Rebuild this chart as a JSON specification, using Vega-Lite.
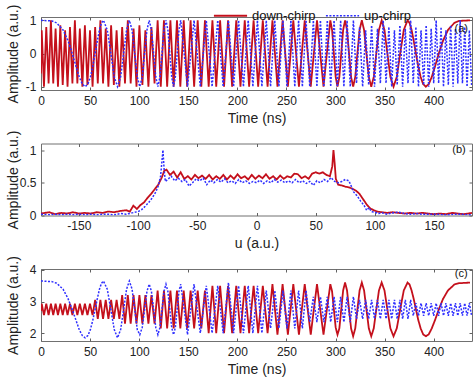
{
"$schema": "https://vega.github.io/schema/vega-lite/v6.json",
"padding": {"left": 5, "top": -3, "right": 0, "bottom": 0},
"background": "white",
"config": {
 "font": "Liberation Sans",
 "view": {"stroke": "#707070", "strokeWidth": 1},
 "axis": {"grid": false, "domain": false, "tickColor": "#606060", "tickSize": -3, "labelFontSize": 12, "labelColor": "#222222", "titleFontSize": 14, "titleFontWeight": "normal", "titleColor": "#222222", "labelPadding": 8, "labelFlush": false, "labelOverlap": false}
},
"datasets": {
"sig": [
{"s":"down-chirp","t":437,"a":1,"c":3.6},
{"s":"down-chirp","t":425.75,"a":0.981,"c":3.58},
{"s":"down-chirp","t":421.09,"a":0.924,"c":3.54},
{"s":"down-chirp","t":414.5,"a":0.707,"c":3.35},
{"s":"down-chirp","t":409.44,"a":0.383,"c":3.08},
{"s":"down-chirp","t":405.18,"a":0,"c":2.75},
{"s":"down-chirp","t":401.42,"a":-0.383,"c":2.42},
{"s":"down-chirp","t":398.03,"a":-0.707,"c":2.15},
{"s":"down-chirp","t":394.91,"a":-0.924,"c":1.96},
{"s":"down-chirp","t":392,"a":-1,"c":1.9},
{"s":"down-chirp","t":389.27,"a":-0.924,"c":1.96},
{"s":"down-chirp","t":386.69,"a":-0.707,"c":2.15},
{"s":"down-chirp","t":384.23,"a":-0.383,"c":2.42},
{"s":"down-chirp","t":381.89,"a":0,"c":2.75},
{"s":"down-chirp","t":379.64,"a":0.383,"c":3.08},
{"s":"down-chirp","t":377.47,"a":0.707,"c":3.35},
{"s":"down-chirp","t":375.38,"a":0.924,"c":3.54},
{"s":"down-chirp","t":373.36,"a":1,"c":3.6},
{"s":"down-chirp","t":369.5,"a":0.707,"c":3.35},
{"s":"down-chirp","t":365.85,"a":0,"c":2.75},
{"s":"down-chirp","t":362.38,"a":-0.707,"c":2.15},
{"s":"down-chirp","t":359.06,"a":-1,"c":1.9},
{"s":"down-chirp","t":355.88,"a":-0.707,"c":2.15},
{"s":"down-chirp","t":352.81,"a":0,"c":2.75},
{"s":"down-chirp","t":349.86,"a":0.707,"c":3.35},
{"s":"down-chirp","t":347,"a":1,"c":3.6},
{"s":"down-chirp","t":344.23,"a":0.707,"c":3.35},
{"s":"down-chirp","t":341.54,"a":0,"c":2.75},
{"s":"down-chirp","t":338.93,"a":-0.707,"c":2.15},
{"s":"down-chirp","t":336.38,"a":-1,"c":1.9},
{"s":"down-chirp","t":333.89,"a":-0.707,"c":2.15},
{"s":"down-chirp","t":331.47,"a":0,"c":2.75},
{"s":"down-chirp","t":329.09,"a":0.707,"c":3.35},
{"s":"down-chirp","t":326.77,"a":1,"c":3.6},
{"s":"down-chirp","t":324.5,"a":0.707,"c":3.35},
{"s":"down-chirp","t":322.27,"a":0,"c":2.75},
{"s":"down-chirp","t":320.09,"a":-0.707,"c":2.15},
{"s":"down-chirp","t":317.94,"a":-1,"c":1.9},
{"s":"down-chirp","t":315.83,"a":-0.707,"c":2.15},
{"s":"down-chirp","t":313.76,"a":0,"c":2.75},
{"s":"down-chirp","t":311.72,"a":0.707,"c":3.35},
{"s":"down-chirp","t":309.72,"a":1,"c":3.6},
{"s":"down-chirp","t":307.75,"a":0.707,"c":3.35},
{"s":"down-chirp","t":305.8,"a":0,"c":2.75},
{"s":"down-chirp","t":303.89,"a":-0.707,"c":2.15},
{"s":"down-chirp","t":302,"a":-1,"c":1.95},
{"s":"down-chirp","t":300.14,"a":-0.707,"c":2.18},
{"s":"down-chirp","t":298.3,"a":0,"c":2.75},
{"s":"down-chirp","t":296.49,"a":0.707,"c":3.32},
{"s":"down-chirp","t":294.7,"a":1,"c":3.55},
{"s":"down-chirp","t":291.18,"a":0,"c":2.75},
{"s":"down-chirp","t":287.75,"a":-1,"c":1.95},
{"s":"down-chirp","t":284.4,"a":0,"c":2.75},
{"s":"down-chirp","t":281.12,"a":1,"c":3.55},
{"s":"down-chirp","t":277.9,"a":0,"c":2.75},
{"s":"down-chirp","t":274.75,"a":-1,"c":1.95},
{"s":"down-chirp","t":271.66,"a":0,"c":2.75},
{"s":"down-chirp","t":268.63,"a":1,"c":3.55},
{"s":"down-chirp","t":265.64,"a":0,"c":2.75},
{"s":"down-chirp","t":262.72,"a":-1,"c":1.95},
{"s":"down-chirp","t":259.83,"a":0,"c":2.75},
{"s":"down-chirp","t":257,"a":1,"c":3.55},
{"s":"down-chirp","t":251.46,"a":-1,"c":1.95},
{"s":"down-chirp","t":246.08,"a":1,"c":3.55},
{"s":"down-chirp","t":240.85,"a":-1,"c":1.95},
{"s":"down-chirp","t":235.75,"a":1,"c":3.55},
{"s":"down-chirp","t":230.78,"a":-1,"c":2.0},
{"s":"down-chirp","t":225.93,"a":1,"c":3.5},
{"s":"down-chirp","t":221.19,"a":-1,"c":2.0},
{"s":"down-chirp","t":216.55,"a":1,"c":3.5},
{"s":"down-chirp","t":212,"a":-1,"c":2.0},
{"s":"down-chirp","t":207.54,"a":1,"c":3.5},
{"s":"down-chirp","t":203.17,"a":-1,"c":2.0},
{"s":"down-chirp","t":198.88,"a":1,"c":3.5},
{"s":"down-chirp","t":194.67,"a":-1,"c":2.0},
{"s":"down-chirp","t":190.52,"a":1,"c":3.5},
{"s":"down-chirp","t":186.45,"a":-1,"c":2.0},
{"s":"down-chirp","t":182.44,"a":1,"c":3.5},
{"s":"down-chirp","t":178.49,"a":-1,"c":2.0},
{"s":"down-chirp","t":174.61,"a":1,"c":3.5},
{"s":"down-chirp","t":170.78,"a":-1,"c":2.0},
{"s":"down-chirp","t":167,"a":1,"c":3.35},
{"s":"down-chirp","t":163.28,"a":-1,"c":2.15},
{"s":"down-chirp","t":159.6,"a":1,"c":3.35},
{"s":"down-chirp","t":155.98,"a":-1,"c":2.15},
{"s":"down-chirp","t":152.39,"a":1,"c":3.35},
{"s":"down-chirp","t":148.86,"a":-1,"c":2.15},
{"s":"down-chirp","t":145.37,"a":1,"c":3.35},
{"s":"down-chirp","t":141.92,"a":-1,"c":2.15},
{"s":"down-chirp","t":138.5,"a":1,"c":3.35},
{"s":"down-chirp","t":135.13,"a":-1,"c":2.15},
{"s":"down-chirp","t":131.8,"a":1,"c":3.35},
{"s":"down-chirp","t":128.49,"a":-1,"c":2.15},
{"s":"down-chirp","t":125.23,"a":1,"c":3.35},
{"s":"down-chirp","t":122,"a":-1,"c":2.15},
{"s":"down-chirp","t":118.8,"a":1,"c":3.35},
{"s":"down-chirp","t":115.64,"a":-0.9,"c":2.3},
{"s":"down-chirp","t":112.5,"a":0.8,"c":3.2},
{"s":"down-chirp","t":109.4,"a":-1,"c":2.3},
{"s":"down-chirp","t":106.32,"a":0.7,"c":3.2},
{"s":"down-chirp","t":103.27,"a":-0.95,"c":2.3},
{"s":"down-chirp","t":100.25,"a":0.85,"c":3.2},
{"s":"down-chirp","t":97.26,"a":-1,"c":2.3},
{"s":"down-chirp","t":94.29,"a":0.75,"c":3.2},
{"s":"down-chirp","t":91.35,"a":-0.9,"c":2.3},
{"s":"down-chirp","t":88.43,"a":1,"c":3.2},
{"s":"down-chirp","t":85.54,"a":-0.9,"c":2.3},
{"s":"down-chirp","t":82.67,"a":0.8,"c":3.2},
{"s":"down-chirp","t":79.82,"a":-1,"c":2.45},
{"s":"down-chirp","t":77,"a":0.7,"c":3.05},
{"s":"down-chirp","t":74.2,"a":-0.95,"c":2.45},
{"s":"down-chirp","t":71.42,"a":0.85,"c":3.05},
{"s":"down-chirp","t":68.66,"a":-1,"c":2.45},
{"s":"down-chirp","t":65.92,"a":0.75,"c":3.05},
{"s":"down-chirp","t":63.2,"a":-0.9,"c":2.45},
{"s":"down-chirp","t":60.5,"a":1,"c":3.05},
{"s":"down-chirp","t":57.83,"a":-0.9,"c":2.45},
{"s":"down-chirp","t":55.16,"a":0.8,"c":3.05},
{"s":"down-chirp","t":52.52,"a":-1,"c":2.57},
{"s":"down-chirp","t":49.9,"a":0.7,"c":2.93},
{"s":"down-chirp","t":47.29,"a":-0.95,"c":2.57},
{"s":"down-chirp","t":44.7,"a":0.85,"c":2.93},
{"s":"down-chirp","t":42.12,"a":-1,"c":2.57},
{"s":"down-chirp","t":39.57,"a":0.75,"c":2.93},
{"s":"down-chirp","t":37.03,"a":-0.9,"c":2.57},
{"s":"down-chirp","t":34.51,"a":1,"c":2.93},
{"s":"down-chirp","t":32,"a":-0.9,"c":2.57},
{"s":"down-chirp","t":29.51,"a":0.8,"c":2.93},
{"s":"down-chirp","t":27.03,"a":-1,"c":2.57},
{"s":"down-chirp","t":24.57,"a":0.7,"c":2.93},
{"s":"down-chirp","t":22.12,"a":-0.95,"c":2.57},
{"s":"down-chirp","t":19.69,"a":0.85,"c":2.93},
{"s":"down-chirp","t":17.27,"a":-1,"c":2.57},
{"s":"down-chirp","t":14.86,"a":0.75,"c":2.93},
{"s":"down-chirp","t":12.47,"a":-0.9,"c":2.57},
{"s":"down-chirp","t":10.09,"a":1,"c":2.93},
{"s":"down-chirp","t":7.73,"a":-0.9,"c":2.57},
{"s":"down-chirp","t":5.37,"a":0.8,"c":2.93},
{"s":"down-chirp","t":3.03,"a":-1,"c":2.57},
{"s":"down-chirp","t":0.71,"a":0.7,"c":2.93},
{"s":"down-chirp","t":0,"a":-0.6,"c":2.7},
{"s":"up-chirp","t":0,"a":1,"c":3.65},
{"s":"up-chirp","t":11.25,"a":0.981,"c":3.63},
{"s":"up-chirp","t":15.91,"a":0.924,"c":3.58},
{"s":"up-chirp","t":22.5,"a":0.707,"c":3.39},
{"s":"up-chirp","t":27.56,"a":0.383,"c":3.09},
{"s":"up-chirp","t":31.82,"a":0,"c":2.75},
{"s":"up-chirp","t":35.58,"a":-0.383,"c":2.41},
{"s":"up-chirp","t":38.97,"a":-0.707,"c":2.11},
{"s":"up-chirp","t":42.09,"a":-0.924,"c":1.92},
{"s":"up-chirp","t":45,"a":-1,"c":1.85},
{"s":"up-chirp","t":47.73,"a":-0.924,"c":1.92},
{"s":"up-chirp","t":50.31,"a":-0.707,"c":2.11},
{"s":"up-chirp","t":52.77,"a":-0.383,"c":2.41},
{"s":"up-chirp","t":55.11,"a":0,"c":2.75},
{"s":"up-chirp","t":57.36,"a":0.383,"c":3.09},
{"s":"up-chirp","t":59.53,"a":0.707,"c":3.39},
{"s":"up-chirp","t":61.62,"a":0.924,"c":3.58},
{"s":"up-chirp","t":63.64,"a":1,"c":3.65},
{"s":"up-chirp","t":67.5,"a":0.707,"c":3.39},
{"s":"up-chirp","t":71.15,"a":0,"c":2.75},
{"s":"up-chirp","t":74.62,"a":-0.707,"c":2.11},
{"s":"up-chirp","t":77.94,"a":-1,"c":1.85},
{"s":"up-chirp","t":81.12,"a":-0.707,"c":2.11},
{"s":"up-chirp","t":84.19,"a":0,"c":2.75},
{"s":"up-chirp","t":87.14,"a":0.707,"c":3.39},
{"s":"up-chirp","t":90,"a":1,"c":3.65},
{"s":"up-chirp","t":92.77,"a":0.707,"c":3.39},
{"s":"up-chirp","t":95.46,"a":0,"c":2.75},
{"s":"up-chirp","t":98.07,"a":-0.707,"c":2.11},
{"s":"up-chirp","t":100.62,"a":-1,"c":1.95},
{"s":"up-chirp","t":103.11,"a":-0.707,"c":2.18},
{"s":"up-chirp","t":105.53,"a":0,"c":2.75},
{"s":"up-chirp","t":107.91,"a":0.707,"c":3.32},
{"s":"up-chirp","t":110.23,"a":1,"c":3.55},
{"s":"up-chirp","t":112.5,"a":0.707,"c":3.32},
{"s":"up-chirp","t":114.73,"a":0,"c":2.75},
{"s":"up-chirp","t":116.91,"a":-0.707,"c":2.18},
{"s":"up-chirp","t":119.06,"a":-1,"c":1.95},
{"s":"up-chirp","t":121.17,"a":-0.707,"c":2.18},
{"s":"up-chirp","t":123.24,"a":0,"c":2.75},
{"s":"up-chirp","t":125.28,"a":0.707,"c":3.32},
{"s":"up-chirp","t":127.28,"a":1,"c":3.55},
{"s":"up-chirp","t":129.25,"a":0.707,"c":3.32},
{"s":"up-chirp","t":131.2,"a":0,"c":2.75},
{"s":"up-chirp","t":133.11,"a":-0.707,"c":2.18},
{"s":"up-chirp","t":135,"a":-1,"c":1.95},
{"s":"up-chirp","t":136.86,"a":-0.707,"c":2.18},
{"s":"up-chirp","t":138.7,"a":0,"c":2.75},
{"s":"up-chirp","t":140.51,"a":0.707,"c":3.32},
{"s":"up-chirp","t":142.3,"a":1,"c":3.55},
{"s":"up-chirp","t":145.82,"a":0,"c":2.75},
{"s":"up-chirp","t":149.25,"a":-1,"c":1.95},
{"s":"up-chirp","t":152.6,"a":0,"c":2.75},
{"s":"up-chirp","t":155.88,"a":1,"c":3.55},
{"s":"up-chirp","t":159.1,"a":0,"c":2.75},
{"s":"up-chirp","t":162.25,"a":-1,"c":2.0},
{"s":"up-chirp","t":165.34,"a":0,"c":2.75},
{"s":"up-chirp","t":168.37,"a":1,"c":3.5},
{"s":"up-chirp","t":171.36,"a":0,"c":2.75},
{"s":"up-chirp","t":174.28,"a":-1,"c":2.0},
{"s":"up-chirp","t":177.17,"a":0,"c":2.75},
{"s":"up-chirp","t":180,"a":1,"c":3.5},
{"s":"up-chirp","t":185.54,"a":-1,"c":2.0},
{"s":"up-chirp","t":190.92,"a":1,"c":3.6},
{"s":"up-chirp","t":196.15,"a":-1,"c":2.0},
{"s":"up-chirp","t":201.25,"a":1,"c":3.5},
{"s":"up-chirp","t":206.22,"a":-1,"c":2.0},
{"s":"up-chirp","t":211.07,"a":1,"c":3.5},
{"s":"up-chirp","t":215.81,"a":-1,"c":2.0},
{"s":"up-chirp","t":220.45,"a":1,"c":3.5},
{"s":"up-chirp","t":225,"a":-1,"c":2.0},
{"s":"up-chirp","t":229.46,"a":1,"c":3.35},
{"s":"up-chirp","t":233.83,"a":-1,"c":2.15},
{"s":"up-chirp","t":238.12,"a":1,"c":3.35},
{"s":"up-chirp","t":242.33,"a":-1,"c":2.15},
{"s":"up-chirp","t":246.48,"a":1,"c":3.35},
{"s":"up-chirp","t":250.55,"a":-1,"c":2.15},
{"s":"up-chirp","t":254.56,"a":1,"c":3.35},
{"s":"up-chirp","t":258.51,"a":-1,"c":2.15},
{"s":"up-chirp","t":262.39,"a":1,"c":3.35},
{"s":"up-chirp","t":266.22,"a":-1,"c":2.15},
{"s":"up-chirp","t":270,"a":1,"c":3.35},
{"s":"up-chirp","t":273.72,"a":-1,"c":2.35},
{"s":"up-chirp","t":277.4,"a":1,"c":3.15},
{"s":"up-chirp","t":281.02,"a":-1,"c":2.35},
{"s":"up-chirp","t":284.61,"a":1,"c":3.15},
{"s":"up-chirp","t":288.14,"a":-1,"c":2.35},
{"s":"up-chirp","t":291.63,"a":1,"c":3.15},
{"s":"up-chirp","t":295.08,"a":-1,"c":2.35},
{"s":"up-chirp","t":298.5,"a":1,"c":3.15},
{"s":"up-chirp","t":301.87,"a":-1,"c":2.35},
{"s":"up-chirp","t":305.2,"a":1,"c":3.15},
{"s":"up-chirp","t":308.51,"a":-1,"c":2.35},
{"s":"up-chirp","t":311.77,"a":1,"c":3.15},
{"s":"up-chirp","t":315,"a":-1,"c":2.35},
{"s":"up-chirp","t":318.2,"a":1,"c":3.15},
{"s":"up-chirp","t":321.36,"a":-0.9,"c":2.45},
{"s":"up-chirp","t":324.5,"a":0.8,"c":3.05},
{"s":"up-chirp","t":327.6,"a":-1,"c":2.45},
{"s":"up-chirp","t":330.68,"a":0.7,"c":3.05},
{"s":"up-chirp","t":333.73,"a":-0.95,"c":2.45},
{"s":"up-chirp","t":336.75,"a":0.85,"c":3.05},
{"s":"up-chirp","t":339.74,"a":-1,"c":2.45},
{"s":"up-chirp","t":342.71,"a":0.75,"c":3.05},
{"s":"up-chirp","t":345.65,"a":-0.9,"c":2.45},
{"s":"up-chirp","t":348.57,"a":1,"c":3.05},
{"s":"up-chirp","t":351.46,"a":-0.9,"c":2.45},
{"s":"up-chirp","t":354.33,"a":0.8,"c":3.05},
{"s":"up-chirp","t":357.18,"a":-1,"c":2.45},
{"s":"up-chirp","t":360,"a":0.7,"c":3.05},
{"s":"up-chirp","t":362.8,"a":-0.95,"c":2.45},
{"s":"up-chirp","t":365.58,"a":0.85,"c":3.05},
{"s":"up-chirp","t":368.34,"a":-1,"c":2.45},
{"s":"up-chirp","t":371.08,"a":0.75,"c":3.05},
{"s":"up-chirp","t":373.8,"a":-0.9,"c":2.45},
{"s":"up-chirp","t":376.5,"a":1,"c":3.05},
{"s":"up-chirp","t":379.17,"a":-0.9,"c":2.55},
{"s":"up-chirp","t":381.84,"a":0.8,"c":2.95},
{"s":"up-chirp","t":384.48,"a":-1,"c":2.55},
{"s":"up-chirp","t":387.1,"a":0.7,"c":2.95},
{"s":"up-chirp","t":389.71,"a":-0.95,"c":2.55},
{"s":"up-chirp","t":392.3,"a":0.85,"c":2.95},
{"s":"up-chirp","t":394.88,"a":-1,"c":2.55},
{"s":"up-chirp","t":397.43,"a":0.75,"c":2.95},
{"s":"up-chirp","t":399.97,"a":-0.9,"c":2.55},
{"s":"up-chirp","t":402.49,"a":1,"c":2.95},
{"s":"up-chirp","t":405,"a":-0.9,"c":2.55},
{"s":"up-chirp","t":407.49,"a":0.8,"c":2.95},
{"s":"up-chirp","t":409.97,"a":-1,"c":2.55},
{"s":"up-chirp","t":412.43,"a":0.7,"c":2.95},
{"s":"up-chirp","t":414.88,"a":-0.95,"c":2.55},
{"s":"up-chirp","t":417.31,"a":0.85,"c":2.95},
{"s":"up-chirp","t":419.73,"a":-1,"c":2.55},
{"s":"up-chirp","t":422.14,"a":0.75,"c":2.95},
{"s":"up-chirp","t":424.53,"a":-0.9,"c":2.55},
{"s":"up-chirp","t":426.91,"a":1,"c":2.95},
{"s":"up-chirp","t":429.27,"a":-0.9,"c":2.55},
{"s":"up-chirp","t":431.63,"a":0.8,"c":2.95},
{"s":"up-chirp","t":433.97,"a":-1,"c":2.55},
{"s":"up-chirp","t":436.29,"a":0.7,"c":2.95},
{"s":"up-chirp","t":438.6,"a":-0.95,"c":2.55}
],
"spec": [
{"s":"down-chirp","u":-182,"b":0.03},{"s":"down-chirp","u":-175,"b":0.05},{"s":"down-chirp","u":-170,"b":0.02},{"s":"down-chirp","u":-165,"b":0.04},{"s":"down-chirp","u":-160,"b":0.03},{"s":"down-chirp","u":-155,"b":0.05},{"s":"down-chirp","u":-150,"b":0.03},{"s":"down-chirp","u":-145,"b":0.04},{"s":"down-chirp","u":-140,"b":0.03},{"s":"down-chirp","u":-135,"b":0.05},{"s":"down-chirp","u":-130,"b":0.04},{"s":"down-chirp","u":-125,"b":0.06},{"s":"down-chirp","u":-120,"b":0.05},{"s":"down-chirp","u":-115,"b":0.07},{"s":"down-chirp","u":-110,"b":0.08},{"s":"down-chirp","u":-107,"b":0.06},{"s":"down-chirp","u":-104,"b":0.15},{"s":"down-chirp","u":-101,"b":0.1},{"s":"down-chirp","u":-98,"b":0.16},{"s":"down-chirp","u":-95,"b":0.2},{"s":"down-chirp","u":-92,"b":0.27},{"s":"down-chirp","u":-89,"b":0.33},{"s":"down-chirp","u":-86,"b":0.4},{"s":"down-chirp","u":-83,"b":0.47},{"s":"down-chirp","u":-80,"b":0.58},{"s":"down-chirp","u":-78,"b":0.68},{"s":"down-chirp","u":-76,"b":0.7},{"s":"down-chirp","u":-73,"b":0.62},{"s":"down-chirp","u":-70,"b":0.67},{"s":"down-chirp","u":-67,"b":0.58},{"s":"down-chirp","u":-64,"b":0.66},{"s":"down-chirp","u":-61,"b":0.56},{"s":"down-chirp","u":-58,"b":0.6},{"s":"down-chirp","u":-55,"b":0.55},{"s":"down-chirp","u":-52,"b":0.62},{"s":"down-chirp","u":-49,"b":0.57},{"s":"down-chirp","u":-46,"b":0.61},{"s":"down-chirp","u":-43,"b":0.56},{"s":"down-chirp","u":-40,"b":0.62},{"s":"down-chirp","u":-37,"b":0.55},{"s":"down-chirp","u":-34,"b":0.6},{"s":"down-chirp","u":-31,"b":0.56},{"s":"down-chirp","u":-28,"b":0.62},{"s":"down-chirp","u":-25,"b":0.55},{"s":"down-chirp","u":-22,"b":0.61},{"s":"down-chirp","u":-19,"b":0.56},{"s":"down-chirp","u":-16,"b":0.63},{"s":"down-chirp","u":-13,"b":0.57},{"s":"down-chirp","u":-10,"b":0.6},{"s":"down-chirp","u":-7,"b":0.55},{"s":"down-chirp","u":-4,"b":0.62},{"s":"down-chirp","u":-1,"b":0.56},{"s":"down-chirp","u":2,"b":0.61},{"s":"down-chirp","u":5,"b":0.57},{"s":"down-chirp","u":8,"b":0.63},{"s":"down-chirp","u":11,"b":0.56},{"s":"down-chirp","u":14,"b":0.6},{"s":"down-chirp","u":17,"b":0.55},{"s":"down-chirp","u":20,"b":0.61},{"s":"down-chirp","u":23,"b":0.56},{"s":"down-chirp","u":26,"b":0.6},{"s":"down-chirp","u":29,"b":0.58},{"s":"down-chirp","u":32,"b":0.64},{"s":"down-chirp","u":35,"b":0.63},{"s":"down-chirp","u":38,"b":0.57},{"s":"down-chirp","u":41,"b":0.6},{"s":"down-chirp","u":44,"b":0.56},{"s":"down-chirp","u":47,"b":0.64},{"s":"down-chirp","u":50,"b":0.66},{"s":"down-chirp","u":53,"b":0.64},{"s":"down-chirp","u":56,"b":0.66},{"s":"down-chirp","u":59,"b":0.62},{"s":"down-chirp","u":62,"b":0.6},{"s":"down-chirp","u":64,"b":0.75},{"s":"down-chirp","u":65,"b":1.0},{"s":"down-chirp","u":66,"b":0.8},{"s":"down-chirp","u":67,"b":0.56},{"s":"down-chirp","u":69,"b":0.47},{"s":"down-chirp","u":72,"b":0.46},{"s":"down-chirp","u":75,"b":0.44},{"s":"down-chirp","u":78,"b":0.43},{"s":"down-chirp","u":81,"b":0.41},{"s":"down-chirp","u":84,"b":0.38},{"s":"down-chirp","u":87,"b":0.33},{"s":"down-chirp","u":90,"b":0.25},{"s":"down-chirp","u":93,"b":0.17},{"s":"down-chirp","u":96,"b":0.11},{"s":"down-chirp","u":99,"b":0.08},{"s":"down-chirp","u":102,"b":0.06},{"s":"down-chirp","u":106,"b":0.05},{"s":"down-chirp","u":110,"b":0.04},{"s":"down-chirp","u":115,"b":0.05},{"s":"down-chirp","u":120,"b":0.04},{"s":"down-chirp","u":125,"b":0.03},{"s":"down-chirp","u":130,"b":0.04},{"s":"down-chirp","u":135,"b":0.03},{"s":"down-chirp","u":140,"b":0.04},{"s":"down-chirp","u":145,"b":0.03},{"s":"down-chirp","u":150,"b":0.02},{"s":"down-chirp","u":155,"b":0.03},{"s":"down-chirp","u":160,"b":0.02},{"s":"down-chirp","u":165,"b":0.04},{"s":"down-chirp","u":170,"b":0.03},{"s":"down-chirp","u":175,"b":0.02},{"s":"down-chirp","u":182,"b":0.04},
{"s":"up-chirp","u":-182,"b":0.02},{"s":"up-chirp","u":-175,"b":0.01},{"s":"up-chirp","u":-170,"b":0.02},{"s":"up-chirp","u":-165,"b":0.01},{"s":"up-chirp","u":-160,"b":0.02},{"s":"up-chirp","u":-155,"b":0.01},{"s":"up-chirp","u":-150,"b":0.02},{"s":"up-chirp","u":-145,"b":0.01},{"s":"up-chirp","u":-140,"b":0.02},{"s":"up-chirp","u":-135,"b":0.01},{"s":"up-chirp","u":-130,"b":0.02},{"s":"up-chirp","u":-125,"b":0.02},{"s":"up-chirp","u":-120,"b":0.01},{"s":"up-chirp","u":-115,"b":0.03},{"s":"up-chirp","u":-110,"b":0.02},{"s":"up-chirp","u":-105,"b":0.04},{"s":"up-chirp","u":-100,"b":0.06},{"s":"up-chirp","u":-97,"b":0.09},{"s":"up-chirp","u":-94,"b":0.14},{"s":"up-chirp","u":-91,"b":0.2},{"s":"up-chirp","u":-88,"b":0.27},{"s":"up-chirp","u":-85,"b":0.36},{"s":"up-chirp","u":-83,"b":0.45},{"s":"up-chirp","u":-81,"b":0.6},{"s":"up-chirp","u":-80,"b":0.8},{"s":"up-chirp","u":-79,"b":1.0},{"s":"up-chirp","u":-78,"b":0.7},{"s":"up-chirp","u":-77,"b":0.52},{"s":"up-chirp","u":-75,"b":0.55},{"s":"up-chirp","u":-72,"b":0.6},{"s":"up-chirp","u":-69,"b":0.53},{"s":"up-chirp","u":-66,"b":0.57},{"s":"up-chirp","u":-63,"b":0.52},{"s":"up-chirp","u":-60,"b":0.55},{"s":"up-chirp","u":-57,"b":0.45},{"s":"up-chirp","u":-54,"b":0.5},{"s":"up-chirp","u":-51,"b":0.56},{"s":"up-chirp","u":-48,"b":0.53},{"s":"up-chirp","u":-45,"b":0.57},{"s":"up-chirp","u":-42,"b":0.47},{"s":"up-chirp","u":-39,"b":0.54},{"s":"up-chirp","u":-36,"b":0.5},{"s":"up-chirp","u":-33,"b":0.55},{"s":"up-chirp","u":-30,"b":0.51},{"s":"up-chirp","u":-27,"b":0.56},{"s":"up-chirp","u":-24,"b":0.5},{"s":"up-chirp","u":-21,"b":0.53},{"s":"up-chirp","u":-18,"b":0.49},{"s":"up-chirp","u":-15,"b":0.55},{"s":"up-chirp","u":-12,"b":0.5},{"s":"up-chirp","u":-9,"b":0.53},{"s":"up-chirp","u":-6,"b":0.49},{"s":"up-chirp","u":-3,"b":0.52},{"s":"up-chirp","u":0,"b":0.5},{"s":"up-chirp","u":3,"b":0.54},{"s":"up-chirp","u":6,"b":0.49},{"s":"up-chirp","u":9,"b":0.53},{"s":"up-chirp","u":12,"b":0.5},{"s":"up-chirp","u":15,"b":0.55},{"s":"up-chirp","u":18,"b":0.51},{"s":"up-chirp","u":21,"b":0.54},{"s":"up-chirp","u":24,"b":0.5},{"s":"up-chirp","u":27,"b":0.53},{"s":"up-chirp","u":30,"b":0.5},{"s":"up-chirp","u":33,"b":0.55},{"s":"up-chirp","u":36,"b":0.5},{"s":"up-chirp","u":39,"b":0.53},{"s":"up-chirp","u":42,"b":0.49},{"s":"up-chirp","u":45,"b":0.52},{"s":"up-chirp","u":48,"b":0.46},{"s":"up-chirp","u":51,"b":0.53},{"s":"up-chirp","u":54,"b":0.5},{"s":"up-chirp","u":57,"b":0.55},{"s":"up-chirp","u":60,"b":0.52},{"s":"up-chirp","u":63,"b":0.58},{"s":"up-chirp","u":66,"b":0.52},{"s":"up-chirp","u":69,"b":0.5},{"s":"up-chirp","u":72,"b":0.52},{"s":"up-chirp","u":75,"b":0.55},{"s":"up-chirp","u":78,"b":0.53},{"s":"up-chirp","u":80,"b":0.45},{"s":"up-chirp","u":82,"b":0.36},{"s":"up-chirp","u":85,"b":0.3},{"s":"up-chirp","u":88,"b":0.22},{"s":"up-chirp","u":91,"b":0.15},{"s":"up-chirp","u":93,"b":0.08},{"s":"up-chirp","u":95,"b":0.12},{"s":"up-chirp","u":97,"b":0.06},{"s":"up-chirp","u":100,"b":0.05},{"s":"up-chirp","u":103,"b":0.03},{"s":"up-chirp","u":106,"b":0.04},{"s":"up-chirp","u":110,"b":0.02},{"s":"up-chirp","u":115,"b":0.04},{"s":"up-chirp","u":120,"b":0.05},{"s":"up-chirp","u":125,"b":0.03},{"s":"up-chirp","u":130,"b":0.02},{"s":"up-chirp","u":135,"b":0.03},{"s":"up-chirp","u":140,"b":0.02},{"s":"up-chirp","u":150,"b":0.02},{"s":"up-chirp","u":160,"b":0.01},{"s":"up-chirp","u":170,"b":0.02},{"s":"up-chirp","u":182,"b":0.01}
]
},
"bounds": "flush",
"spacing": 53.5,
"resolve": {"scale": {"color": "independent", "strokeDash": "independent", "strokeWidth": "independent"}, "legend": {"color": "independent", "strokeDash": "independent"}},
"vconcat": [
{
 "width": 431, "height": 73,
 "layer": [
  {
   "data": {"name": "sig"},
   "mark": {"type": "line", "clip": true},
   "encoding": {
    "x": {"field": "t", "type": "quantitative", "scale": {"domain": [0, 439], "nice": false, "zero": false}, "axis": {"title": "Time (ns)", "values": [0,50,100,150,200,250,300,350,400], "titleY": 21}},
    "y": {"field": "a", "type": "quantitative", "scale": {"domain": [-1.1, 1.1], "nice": false, "zero": false}, "axis": {"title": "Amplitude (a.u.)", "values": [-1,0,1], "titleX": -21, "labelExpr": "'' + datum.value"}},
    "color": {"field": "s", "type": "nominal", "scale": {"domain": ["down-chirp","up-chirp"], "range": ["#c4101c","#2f2fff"]}, "legend": {"title": null, "orient": "none", "legendX": 172, "legendY": -19, "direction": "horizontal", "labelFontSize": 13, "labelColor": "#111111", "symbolSize": 1100, "symbolStrokeWidth": 2, "columnPadding": 6, "labelOffset": 4, "symbolType": "stroke"}},
    "strokeDash": {"field": "s", "type": "nominal", "scale": {"domain": ["down-chirp","up-chirp"], "range": [[1,0],[2,1.5]]}, "legend": {"title": null, "orient": "none", "legendX": 172, "legendY": -19, "direction": "horizontal", "labelFontSize": 13, "labelColor": "#111111", "symbolSize": 1100, "symbolStrokeWidth": 2, "columnPadding": 6, "labelOffset": 4, "symbolType": "stroke"}},
    "strokeWidth": {"field": "s", "type": "nominal", "scale": {"domain": ["down-chirp","up-chirp"], "range": [1.8, 1.5]}, "legend": null}
   }
  },
  {
   "data": {"values": [{"x": 428, "y": 0.75, "l": "(a)"}]},
   "mark": {"type": "text", "fontSize": 11, "color": "#111111"},
   "encoding": {
    "x": {"field": "x", "type": "quantitative", "scale": {"domain": [0, 439], "nice": false, "zero": false}, "axis": {"orient": "top", "labels": false, "title": null, "values": [0,50,100,150,200,250,300,350,400]}},
    "y": {"field": "y", "type": "quantitative", "scale": {"domain": [-1.1, 1.1], "nice": false, "zero": false}, "axis": {"orient": "right", "labels": false, "title": null, "values": [-1,0,1]}},
    "text": {"field": "l"}
   }
  }
 ],
 "resolve": {"axis": {"x": "independent", "y": "independent"}}
},
{
 "width": 431, "height": 72,
 "layer": [
  {
   "data": {"name": "spec"},
   "mark": {"type": "line", "clip": true},
   "encoding": {
    "x": {"field": "u", "type": "quantitative", "scale": {"domain": [-182, 182], "nice": false, "zero": false}, "axis": {"title": "u (a.u.)", "values": [-150,-100,-50,0,50,100,150], "titleY": 21, "labelExpr": "'' + datum.value"}},
    "y": {"field": "b", "type": "quantitative", "scale": {"domain": [0, 1.1], "nice": false, "zero": false}, "axis": {"title": "Amplitude (a.u.)", "values": [0,0.5,1], "titleX": -21, "labelExpr": "'' + datum.value"}},
    "color": {"field": "s", "type": "nominal", "scale": {"domain": ["down-chirp","up-chirp"], "range": ["#c4101c","#2f2fff"]}, "legend": null},
    "strokeDash": {"field": "s", "type": "nominal", "scale": {"domain": ["down-chirp","up-chirp"], "range": [[1,0],[2,1.5]]}, "legend": null},
    "strokeWidth": {"field": "s", "type": "nominal", "scale": {"domain": ["down-chirp","up-chirp"], "range": [1.8, 1.5]}, "legend": null}
   }
  },
  {
   "data": {"values": [{"x": 171, "y": 1.0, "l": "(b)"}]},
   "mark": {"type": "text", "fontSize": 11, "color": "#111111"},
   "encoding": {
    "x": {"field": "x", "type": "quantitative", "scale": {"domain": [-182, 182], "nice": false, "zero": false}, "axis": {"orient": "top", "labels": false, "title": null, "values": [-150,-100,-50,0,50,100,150]}},
    "y": {"field": "y", "type": "quantitative", "scale": {"domain": [0, 1.1], "nice": false, "zero": false}, "axis": {"orient": "right", "labels": false, "title": null, "values": [0,0.5,1]}},
    "text": {"field": "l"}
   }
  }
 ],
 "resolve": {"axis": {"x": "independent", "y": "independent"}}
},
{
 "width": 431, "height": 72,
 "layer": [
  {
   "data": {"name": "sig"},
   "mark": {"type": "line", "clip": true},
   "encoding": {
    "x": {"field": "t", "type": "quantitative", "scale": {"domain": [0, 439], "nice": false, "zero": false}, "axis": {"title": "Time (ns)", "values": [0,50,100,150,200,250,300,350,400], "titleY": 21}},
    "y": {"field": "c", "type": "quantitative", "scale": {"domain": [1.75, 4.03], "nice": false, "zero": false}, "axis": {"title": "Amplitude (a.u.)", "values": [2,3,4], "titleX": -21}},
    "color": {"field": "s", "type": "nominal", "scale": {"domain": ["down-chirp","up-chirp"], "range": ["#c4101c","#2f2fff"]}, "legend": null},
    "strokeDash": {"field": "s", "type": "nominal", "scale": {"domain": ["down-chirp","up-chirp"], "range": [[1,0],[2,1.5]]}, "legend": null},
    "strokeWidth": {"field": "s", "type": "nominal", "scale": {"domain": ["down-chirp","up-chirp"], "range": [1.8, 1.5]}, "legend": null}
   }
  },
  {
   "data": {"values": [{"x": 428, "y": 3.87, "l": "(c)"}]},
   "mark": {"type": "text", "fontSize": 11, "color": "#111111"},
   "encoding": {
    "x": {"field": "x", "type": "quantitative", "scale": {"domain": [0, 439], "nice": false, "zero": false}, "axis": {"orient": "top", "labels": false, "title": null, "values": [0,50,100,150,200,250,300,350,400]}},
    "y": {"field": "y", "type": "quantitative", "scale": {"domain": [1.75, 4.03], "nice": false, "zero": false}, "axis": {"orient": "right", "labels": false, "title": null, "values": [2,3,4]}},
    "text": {"field": "l"}
   }
  }
 ],
 "resolve": {"axis": {"x": "independent", "y": "independent"}}
}
]
}
